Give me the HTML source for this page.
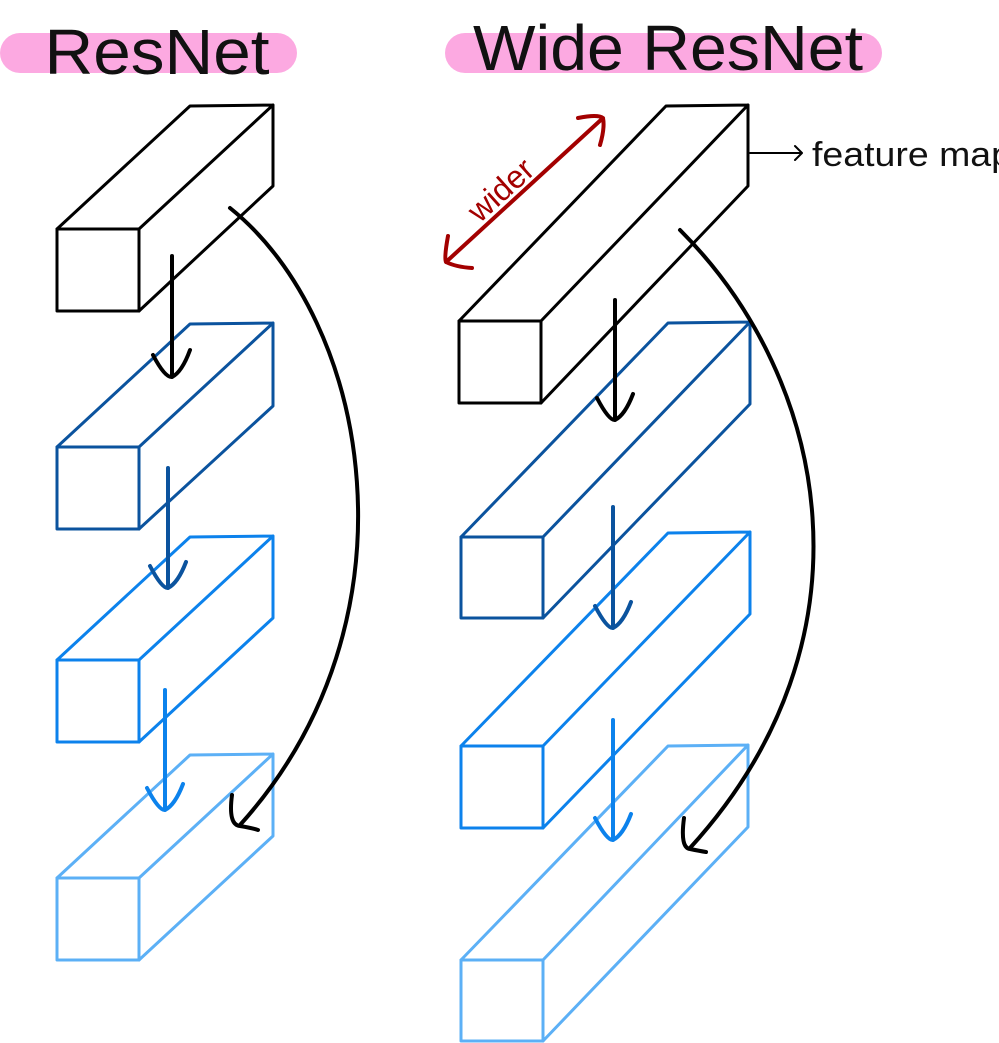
<!DOCTYPE html>
<html><head><meta charset="utf-8"><style>
html,body{margin:0;padding:0;background:#fff;}
</style></head><body>
<svg width="999" height="1043" viewBox="0 0 999 1043" xmlns="http://www.w3.org/2000/svg" style="display:block">
<rect x="0" y="33" width="297" height="40" rx="20" fill="#fca9e1"/>
<rect x="445" y="33" width="437" height="40" rx="20" fill="#fca9e1"/>
<text x="157" y="74" text-anchor="middle" font-family="Liberation Sans, sans-serif" font-size="64" fill="#111" textLength="225" lengthAdjust="spacingAndGlyphs">ResNet</text>
<text x="668" y="70" text-anchor="middle" font-family="Liberation Sans, sans-serif" font-size="64" fill="#111" textLength="390" lengthAdjust="spacingAndGlyphs">Wide ResNet</text>

<g fill="none" stroke-width="3" stroke-linejoin="round" stroke-linecap="round">
<g stroke="#000"><rect x="57" y="229" width="82" height="82"/><path d="M57 229 L190 106 L273 105 L273 186 L139 311 M139 229 L273 105"/></g>
<g stroke="#0b539e"><rect x="57" y="447" width="82" height="82"/><path d="M57 447 L190 324 L273 323 L273 406 L139 529 M139 447 L273 323"/></g>
<g stroke="#0c82ec"><rect x="57" y="660" width="82" height="82"/><path d="M57 660 L190 537 L273 536 L273 618 L139 742 M139 660 L273 536"/></g>
<g stroke="#5cb0f6"><rect x="57" y="878" width="82" height="82"/><path d="M57 878 L190 755 L273 754 L273 836 L139 960 M139 878 L273 754"/></g>

<g stroke="#000"><rect x="459" y="321" width="82" height="82"/><path d="M459 321 L666 106 L748 105 L748 186 L541 403 M541 321 L748 105"/></g>
<g stroke="#0b539e"><rect x="461" y="537" width="82" height="81"/><path d="M461 537 L668 323 L750 322 L750 404 L543 618 M543 537 L750 322"/></g>
<g stroke="#0c82ec"><rect x="461" y="746" width="82" height="82"/><path d="M461 746 L668 533 L750 532 L750 614 L543 828 M543 746 L750 532"/></g>
<g stroke="#5cb0f6"><rect x="461" y="960" width="82" height="81"/><path d="M461 960 L668 746 L748 745 L748 827 L543 1041 M543 960 L748 745"/></g>

<g stroke-width="4">
<path stroke="#000" d="M172 256 L172 377 M153 355 Q165 378 172 377 Q182 372 190 350"/>
<path stroke="#0b539e" d="M168 468 L168 588 M150 566 Q162 589 168 588 Q178 583 186 562"/>
<path stroke="#0c82ec" d="M165 690 L165 810 M147 788 Q159 811 165 810 Q175 805 183 784"/>
<path stroke="#000" d="M615 300 L615 420 M597 398 Q609 421 615 420 Q625 415 633 394"/>
<path stroke="#0b539e" d="M613 507 L613 628 M595 606 Q607 629 613 628 Q623 623 631 602"/>
<path stroke="#0c82ec" d="M613 720 L613 840 M595 818 Q607 841 613 840 Q623 835 631 814"/>
<path stroke="#000" d="M230 208 C 370 320, 425 620, 240 825 M232 795 Q228 825 240 826 Q252 828 258 830"/>
<path stroke="#000" d="M680 230 C 830 380, 880 640, 690 848 M684 818 Q680 848 690 849 Q700 851 706 852"/>
<path stroke="#a30000" d="M446 262 L603 118 M448 236 Q444 258 446 262 Q456 267 472 268 M578 118 Q598 114 603 118 Q605 128 600 145"/>
<path stroke="#000" stroke-width="2" d="M750 153 L802 153 M795 146 L802 153 L795 160"/>
</g>
</g>
<text x="508" y="198" transform="rotate(-42 508 198)" text-anchor="middle" font-family="Liberation Sans, sans-serif" font-size="32" fill="#a30000">wider</text>
<text x="812" y="166" font-family="Liberation Sans, sans-serif" font-size="34" fill="#111" textLength="200" lengthAdjust="spacingAndGlyphs">feature map</text>
</svg>
</body></html>
